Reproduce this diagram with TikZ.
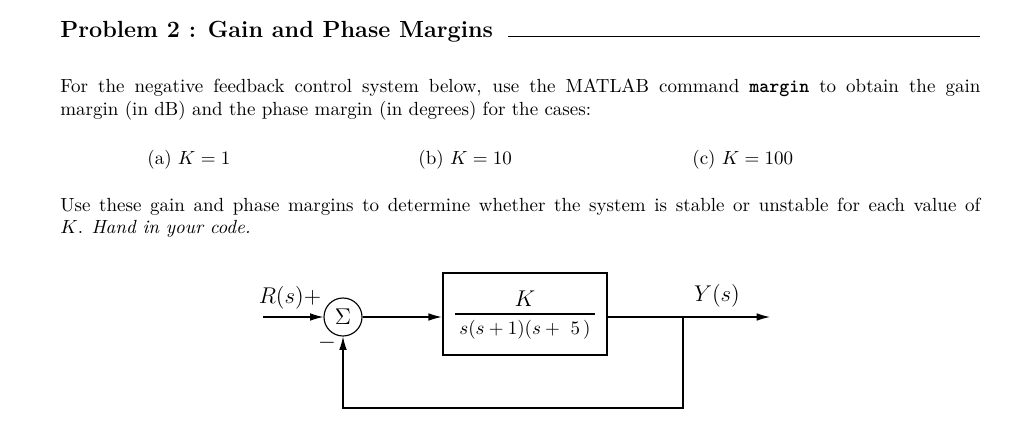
\documentclass[tikz,border=0pt]{standalone}
\usetikzlibrary{arrows.meta}
\tikzset{
  wire/.style={line width=0.6pt},
  arr/.style={wire,-{Latex[length=7pt,width=4pt]}},
  txt/.style={inner sep=0pt,anchor=base west},
  dtxt/.style={inner sep=0pt,font=\large}
}
\begin{document}
\begin{tikzpicture}[x=0.5263pt,y=-0.5263pt]
\useasboundingbox (0,0) rectangle (1024,436);
\node[txt,font=\bfseries\fontsize{12.3}{15}\selectfont] (title) at (60,38) {Problem 2 : Gain and Phase Margins};
\coordinate (r1) at (508,36);
\coordinate (r2) at (980,36);
\draw[line width=0.4pt] (r1) -- (r2);
\node[txt,text width=484.2pt,align=justify] (p1) at (60,93) {For the negative feedback control system below, use the MATLAB command \texttt{\bfseries margin} to obtain the gain\linebreak margin (in dB) and the phase margin (in degrees) for the cases:};
\node[txt] (ca) at (147,165) {(a) $K=1$};
\node[txt] (cb) at (418,165) {(b) $K=10$};
\node[txt] (cc) at (692,165) {(c) $K=100$};
\node[txt,text width=484.2pt,align=justify] (p2) at (60,211) {Use these gain and phase margins to determine whether the system is stable or unstable for each value of\linebreak $K$. \textit{Hand in your code.}};
% diagram
\node[draw,circle,wire,minimum size=20pt,inner sep=0pt,font=\large] (sum) at (343,317) {$\Sigma$};
\coordinate (in) at (263,317);
\node[draw,line width=1.3pt,minimum width=164*0.5263pt,minimum height=82*0.5263pt,inner sep=0pt] (G) at (525,314) {};
\node[dtxt] (num) at (525,299) {$K$};
\node[dtxt,font=\normalsize] (den) at (525,330) {$s(s+1)(s+\ 5\,)$};
\coordinate (fl) at (455,314);
\coordinate (fr) at (595,314);
\draw[wire] (fl) -- (fr);
\coordinate (br) at (683,317);
\coordinate (out) at (770,317);
\coordinate (bd) at (683,408);
\coordinate (bl) at (343,408);
\node[dtxt] (R) at (290,298) {$R(s)+$};
\node[dtxt] (minus) at (327,343) {$-$};
\node[dtxt] (Y) at (717,296) {$Y(s)$};
\draw[arr] (in) -- (sum);
\draw[arr] (sum) -- (G.west |- sum);
\draw[wire] (G.east |- sum) -- (br);
\draw[arr] (br) -- (out);
\draw[arr] (br) -- (bd) -- (bl) -- (sum);
\end{tikzpicture}
\end{document}
